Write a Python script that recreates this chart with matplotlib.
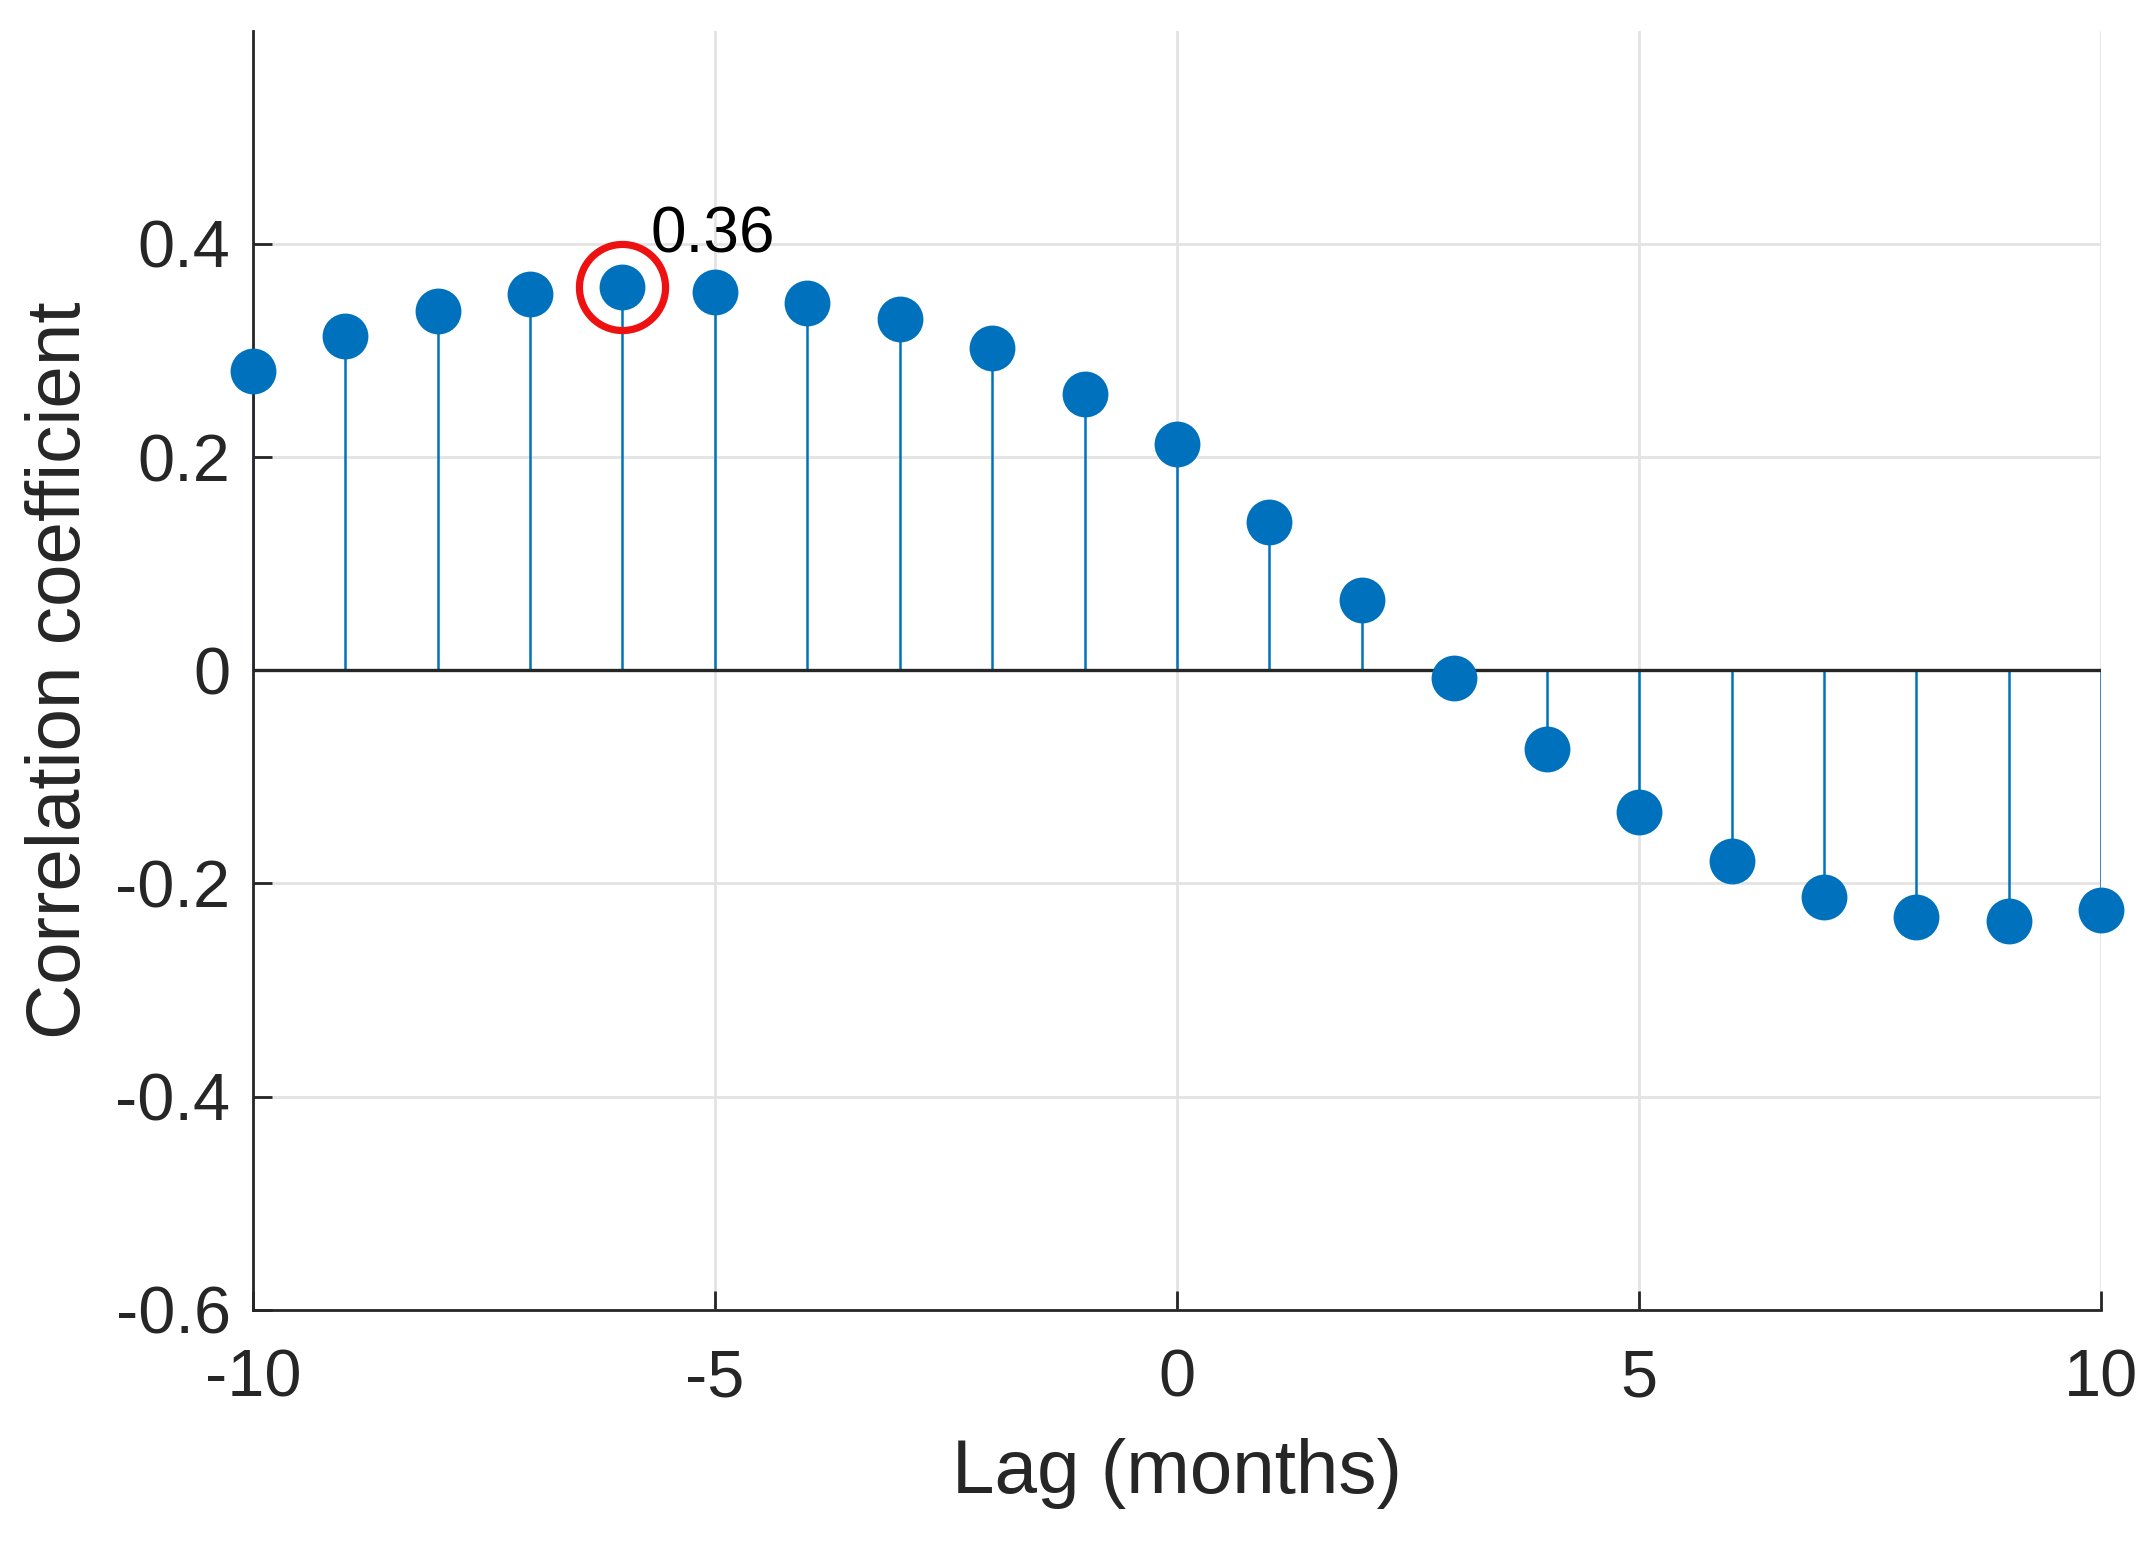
import matplotlib.pyplot as plt
import numpy as np

# lag values and correlation
lags = list(range(-10, 11))
corr = [0.281, 0.314, 0.337, 0.353, 0.360, 0.355, 0.345, 0.330, 0.302, 0.259,
        0.212, 0.139, 0.066, -0.007, -0.074, -0.133, -0.179, -0.213, -0.231,
        -0.235, -0.225]
peak_lag = -6
peak_label = '0.36'

xticks = [-10, -5, 0, 5, 10]
yticks = [-0.6, -0.4, -0.2, 0, 0.2, 0.4]
ytick_labels = ['-0.6', '-0.4', '-0.2', '0', '0.2', '0.4']

plt.rcParams['font.family'] = ['Liberation Sans', 'DejaVu Sans']

blue = '#0072BD'
dark = '#262626'

fig = plt.figure(figsize=(10.775, 7.71), dpi=200)
ax = fig.add_axes([0.1173, 0.1506, 0.8578, 0.8294])

ax.grid(True, color='#e3e3e3', linewidth=1.0, zorder=0)
ax.set_axisbelow(True)

ax.vlines(lags, 0, corr, color=blue, linewidth=0.9, zorder=2)
ax.axhline(0, color=dark, linewidth=1.2, zorder=3)
ax.plot(lags, corr, 'o', color=blue, markersize=16.5, markeredgewidth=0,
        zorder=4, clip_on=False)

# red ring on the peak
pk = lags.index(peak_lag)
ax.plot([lags[pk]], [corr[pk]], 'o', markerfacecolor='none', markeredgecolor='#ee1111',
        markersize=31, markeredgewidth=2.6, zorder=5, clip_on=False)
ax.text(lags[pk] + 0.3, corr[pk] + 0.032, peak_label, fontsize=23, color='black',
        ha='left', va='baseline', zorder=6)

ax.set_xlim(-10, 10)
ax.set_ylim(-0.6, 0.6)
ax.set_xticks(xticks)
ax.set_xticklabels([str(t) for t in xticks])
ax.set_yticks(yticks)
ax.set_yticklabels(ytick_labels)

ax.tick_params(direction='in', length=7, width=1.0, colors=dark, labelsize=24)
ax.tick_params(axis='x', pad=14)
ax.tick_params(axis='y', pad=8)

for s in ['top', 'right']:
    ax.spines[s].set_visible(False)
for s in ['left', 'bottom']:
    ax.spines[s].set_color(dark)
    ax.spines[s].set_linewidth(1.0)

ax.set_xlabel('Lag (months)', fontsize=27.5, color=dark, labelpad=10)
ax.set_ylabel('Correlation coefficient', fontsize=27.5, color=dark, labelpad=7)

fig.savefig('out.png', dpi=200)
